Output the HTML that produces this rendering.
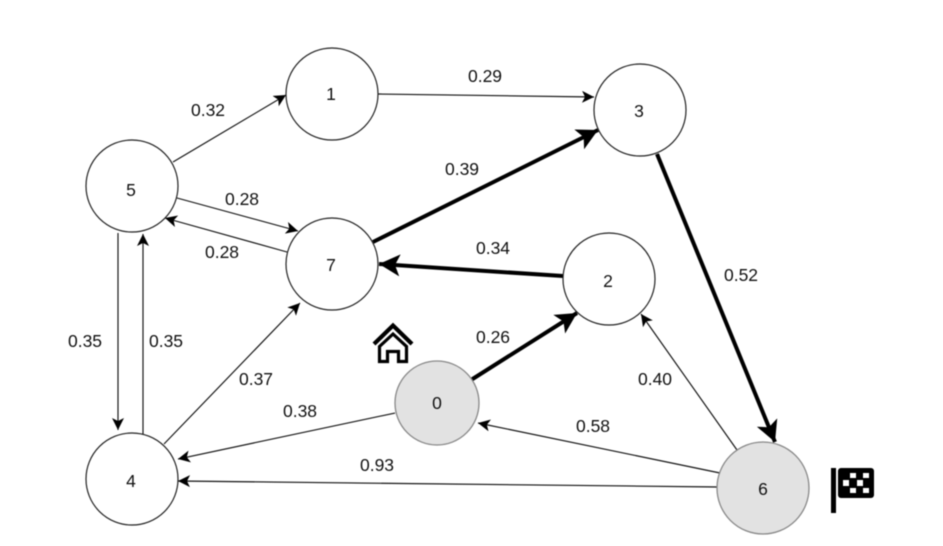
<!DOCTYPE html>
<html><head><meta charset="utf-8"><style>
html,body{margin:0;padding:0;background:#fff;width:943px;height:546px;overflow:hidden}
svg{display:block;filter:blur(0.4px)}
text{font-family:"Liberation Sans",sans-serif;font-size:17.5px;fill:#111;text-anchor:middle}
.n{fill:#fff;stroke:#222;stroke-width:1.2}
.g{fill:#e2e2e2;stroke:#888;stroke-width:1.3}
.t{stroke:#111;stroke-width:1.15;fill:none}
.b{stroke:#000;stroke-width:4;fill:none}
</style></head><body>
<svg width="943" height="546" viewBox="0 0 943 546" xmlns="http://www.w3.org/2000/svg">
<defs>
<marker id="a" markerUnits="userSpaceOnUse" markerWidth="14" markerHeight="14" refX="12" refY="6" orient="auto"><path d="M0 0L12 6L0 12L3 6Z" fill="#000"/></marker>
<marker id="c" markerUnits="userSpaceOnUse" markerWidth="24" markerHeight="24" refX="21" refY="11" orient="auto"><path d="M0 0L21 11L0 22L5 11Z" fill="#000"/></marker>
</defs>
<line class="t" x1="173" y1="162" x2="286" y2="95" marker-end="url(#a)"/>
<line class="t" x1="378" y1="94" x2="594" y2="97" marker-end="url(#a)"/>
<line class="t" x1="177" y1="198" x2="298" y2="231" marker-end="url(#a)"/>
<line class="t" x1="287" y1="252" x2="165" y2="218" marker-end="url(#a)"/>
<line class="t" x1="118" y1="233" x2="118" y2="430" marker-end="url(#a)"/>
<line class="t" x1="143" y1="435" x2="143" y2="234" marker-end="url(#a)"/>
<line class="t" x1="164" y1="444" x2="300" y2="303" marker-end="url(#a)"/>
<line class="t" x1="395" y1="413" x2="178" y2="459" marker-end="url(#a)"/>
<line class="t" x1="718" y1="487" x2="178" y2="481" marker-end="url(#a)"/>
<line class="t" x1="720" y1="473" x2="478" y2="423" marker-end="url(#a)"/>
<line class="t" x1="737" y1="450" x2="641" y2="314" marker-end="url(#a)"/>
<line class="b" x1="373" y1="242" x2="598" y2="130" marker-end="url(#c)"/>
<line class="b" x1="563" y1="276" x2="379" y2="264" marker-end="url(#c)"/>
<line class="b" x1="471" y1="380" x2="577" y2="313" marker-end="url(#c)"/>
<line class="b" x1="657" y1="154" x2="775" y2="442" marker-end="url(#c)"/>
<circle class="n" cx="332" cy="94" r="46"/>
<circle class="n" cx="640" cy="110" r="46"/>
<circle class="n" cx="132" cy="186" r="46"/>
<circle class="n" cx="332" cy="264" r="46"/>
<circle class="n" cx="609" cy="279" r="46"/>
<circle class="n" cx="132" cy="479" r="46"/>
<circle class="g" cx="437" cy="403" r="42"/>
<circle class="g" cx="763" cy="488" r="46"/>
<text x="331" y="100">1</text>
<text x="639" y="117">3</text>
<text x="131" y="196">5</text>
<text x="331" y="271">7</text>
<text x="608" y="287">2</text>
<text x="131" y="487">4</text>
<text x="437" y="409">0</text>
<text x="763" y="495">6</text>
<text x="208" y="116">0.32</text>
<text x="485" y="82">0.29</text>
<text x="462" y="175">0.39</text>
<text x="242" y="205">0.28</text>
<text x="222" y="258">0.28</text>
<text x="493" y="254">0.34</text>
<text x="741" y="281">0.52</text>
<text x="85" y="347">0.35</text>
<text x="166" y="347">0.35</text>
<text x="256" y="385">0.37</text>
<text x="300" y="417">0.38</text>
<text x="493" y="343">0.26</text>
<text x="655" y="385">0.40</text>
<text x="593" y="432">0.58</text>
<text x="377" y="471">0.93</text>
<!-- house icon -->
<g fill="none" stroke="#000">
<path d="M374 344L393 325.500L412 344" stroke-width="4.200"/>
<path d="M379.500 346.500L393 334L406.500 346.500V361.500H398.500V351.500H387.500V361.500H379.500Z" stroke-width="3.200"/>
</g>
<!-- flag icon -->
<rect x="831" y="468" width="5" height="45" fill="#000"/>
<rect x="838" y="468" width="36" height="30" rx="3" fill="#000"/>
<g fill="#fff">
<rect x="850" y="473" width="6" height="5"/><rect x="863" y="473" width="6" height="5"/>
<rect x="843" y="480" width="6" height="6"/><rect x="857" y="480" width="6" height="6"/>
<rect x="850" y="488" width="6" height="5"/><rect x="863" y="488" width="6" height="5"/>
</g>
</svg>
</body></html>
